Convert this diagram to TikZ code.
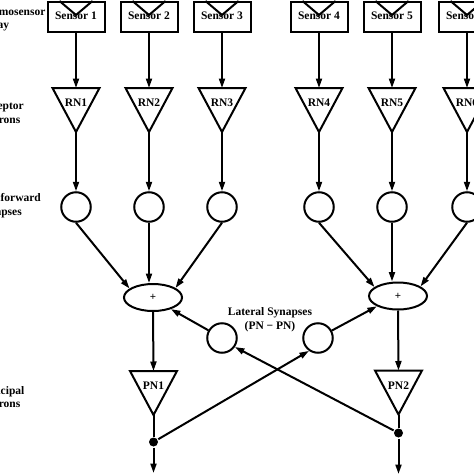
\documentclass[tikz,border=0pt]{standalone}
\usepackage{fontspec}
\setmainfont{Liberation Serif}
\usetikzlibrary{arrows.meta,shapes.geometric}
\begin{document}
\begin{tikzpicture}[x=1pt,y=-1pt,
  line width=2pt,
  every node/.style={font=\fontsize{11.5}{13.5}\selectfont\bfseries},
  sensorbox/.style={draw, rectangle, minimum width=57pt, minimum height=30pt, inner sep=0pt, text depth=3pt},
  tribox/.style={rectangle, minimum width=45pt, minimum height=42pt, inner sep=0pt, text depth=14pt},
  syn/.style={draw, circle, minimum size=29.5pt, inner sep=0pt},
  sumnode/.style={draw, ellipse, minimum width=58pt, minimum height=27pt, inner sep=0pt, font=\fontsize{11}{11}\selectfont\bfseries},
  dotnode/.style={circle, fill, minimum size=9pt, inner sep=0pt},
  arr/.style={-{Triangle[length=9.5pt,width=6pt]}},
  sidelab/.style={anchor=west, align=left, inner sep=0pt},
  triline/.style={line join=miter},
]
\useasboundingbox (0,0) rectangle (474,474);

\foreach \i/\x in {1/76,2/149,3/222,4/319,5/392,6/467} {
  \node[sensorbox] (s\i) at (\x,17) {Sensor \i};
  \draw (s\i.north) ++(-16.5,0) -- ++(16.5,14) -- ++(16.5,-14);
  \node[tribox] (r\i) at (\x,110) {RN\i};
  \draw[triline] (r\i.north west) -- (r\i.north east) -- (r\i.south) -- cycle;
  \node[syn] (c\i) at (\x,207) {};
  \draw[arr] (s\i.south) -- (r\i.north);
  \draw[arr] (r\i.south) -- (c\i.north);
}

\node[sumnode] (e1) at (153,297.5) {+};
\node[sumnode] (e2) at (398,296) {+};
\node[tribox] (p1) at (153.5,393) {PN1};
\draw[triline] (p1.north west) -- (p1.north east) -- (p1.south) -- cycle;
\node[tribox] (p2) at (398.5,392.5) {PN2};
\draw[triline] (p2.north west) -- (p2.north east) -- (p2.south) -- cycle;
\node[dotnode] (d1) at (153.5,442) {};
\node[dotnode] (d2) at (398.5,433) {};
\coordinate (b1) at (153.5,473);
\coordinate (b2) at (398.5,474);
\node[syn] (L) at (222,338) {};
\node[syn] (R) at (318,338) {};
\node[align=center] (lat) at (270,319.5) {Lateral Synapses\\(PN − PN)};

\draw[arr] (c1.south) -- (e1.159);
\draw[arr] (c2.south) -- (c2.south |- e1.north);
\draw[arr] (c3.south) -- (e1.23);
\draw[arr] (c4.south) -- (e2.159);
\draw[arr] (c5.south) -- (c5.south |- e2.north);
\draw[arr] (c6.south) -- (e2.23);

\draw[arr] (e1.south) -- (p1.north);
\draw[arr] (e2.south) -- (p2.north);
\draw (p1.south) -- (d1);
\draw (p2.south) -- (d2);
\draw[arr] (d1) -- (b1);
\draw[arr] (d2) -- (b2);

\draw[arr] (L) -- (e1.-33);
\draw[arr] (R) -- (e2.206);
\draw[arr] (d1) -- (R.235);
\draw[arr] (d2) -- (L.-35);

\node[sidelab] (lab1) at (-22,19) {Chemosensor\\Array};
\node[sidelab] (lab2) at (-22,113) {Receptor\\Neurons};
\node[sidelab] (lab3) at (-24,205.5) {Feedforward\\Synapses};
\node[sidelab] (lab4) at (-22,397) {Principal\\Neurons};
\end{tikzpicture}
\end{document}
